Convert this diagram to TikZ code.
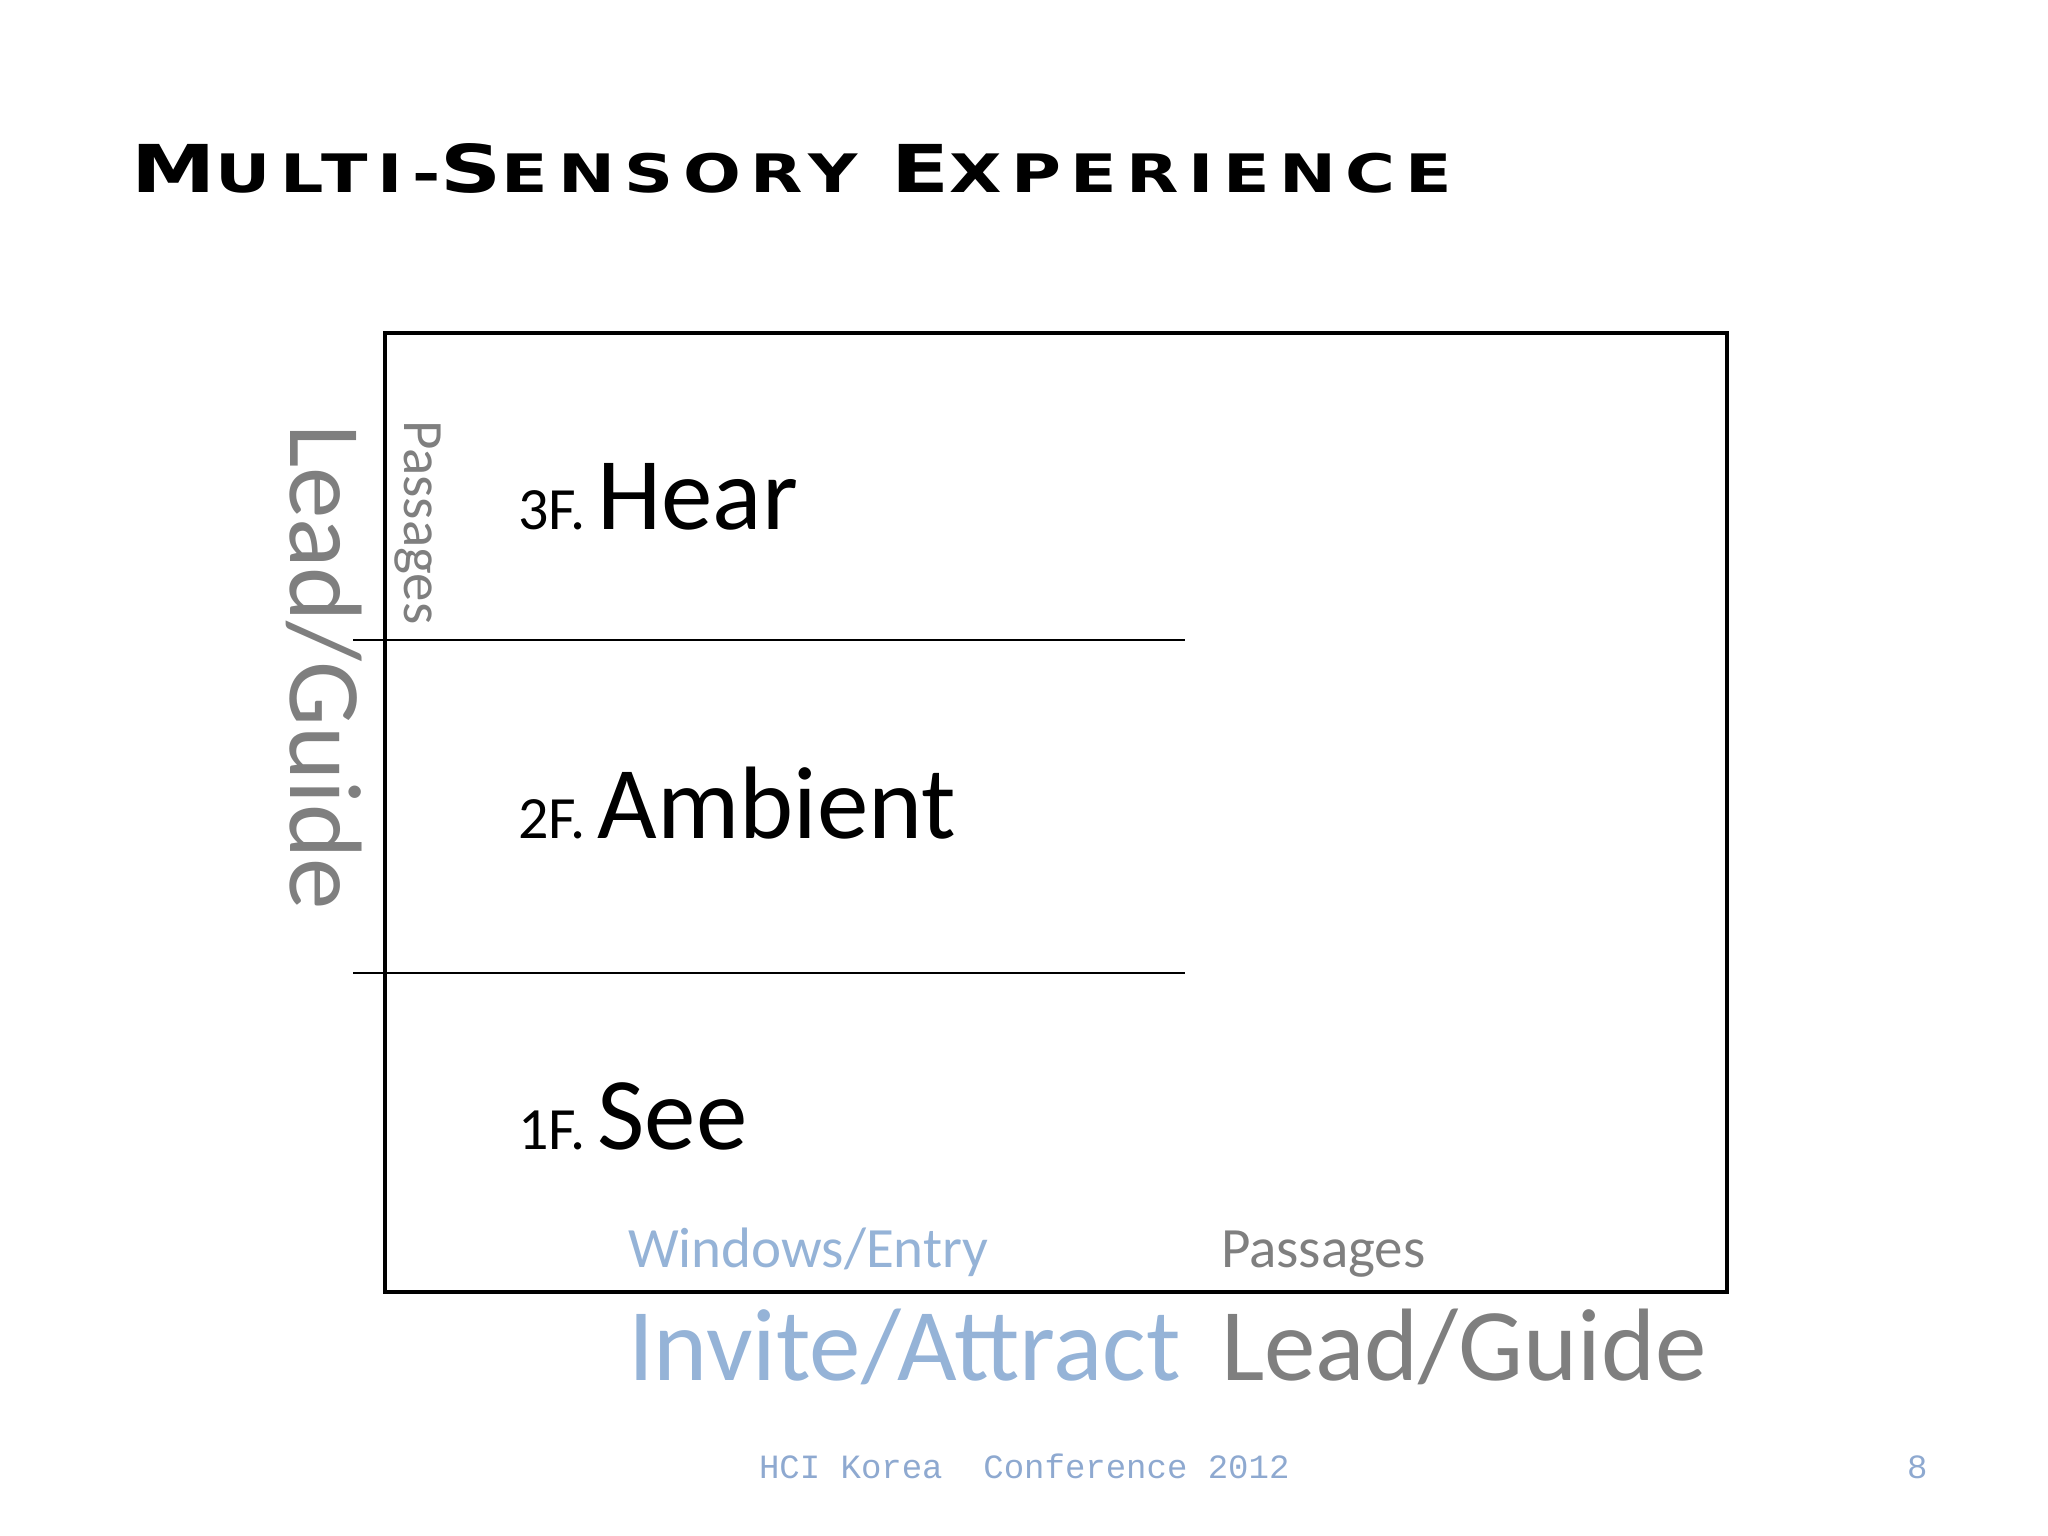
\documentclass[tikz,border=0pt]{standalone}
\usepackage{fontspec}
\usepackage{graphicx}
\setmainfont{Carlito}
\newfontfamily\titlefont[LetterSpace=14]{DejaVu Sans}
\newfontfamily\footfont{Liberation Mono}
\definecolor{lblue}{HTML}{95B3D7}
\definecolor{mgray}{HTML}{7F7F7F}
\definecolor{fblue}{HTML}{8EA9D0}
\tikzset{
  txt/.style={inner sep=0pt, outer sep=0pt, anchor=base west},
  big/.style={font=\fontsize{103}{120}\selectfont},
  mid/.style={font=\fontsize{57}{66}\selectfont},
  floor/.style={txt, text=black},
  frame/.style={line width=4pt, line join=miter},
  divider/.style={line width=1.6pt},
}
\newcommand{\floorlab}[2]{{\fontsize{60}{66}\selectfont #1}\hspace{12pt}{\fontsize{103}{120}\selectfont #2}}
\begin{document}
\begin{tikzpicture}[x=1pt,y=-1pt]
\useasboundingbox (0,0) rectangle (2048,1536);
% title
\node[txt] (title) at (131,192) {\resizebox{1321pt}{\height}{\titlefont\bfseries
  \fontsize{66}{70}\selectfont M\fontsize{53}{60}\selectfont ULTI-\fontsize{66}{70}\selectfont S\fontsize{53}{60}\selectfont ENSORY
  \fontsize{66}{70}\selectfont E\fontsize{53}{60}\selectfont XPERIENCE}};
% frame
\draw[frame] (385,333) rectangle (1727,1292);
\coordinate (l1a) at (353,640); \coordinate (l1b) at (1185,640);
\coordinate (l2a) at (353,973); \coordinate (l2b) at (1185,973);
\draw[divider] (l1a) -- (l1b);
\draw[divider] (l2a) -- (l2b);
% floors
\node[floor] (f3) at (518,529) {\floorlab{3F.}{Hear}};
\node[floor] (f2) at (518,838) {\floorlab{2F.}{Ambient}};
\node[floor] (f1) at (518,1149) {\floorlab{1F.}{See}};
% vertical labels
\node[txt, big, text=mgray, rotate=-90] (vlead) at (290,424) {Lead/Guide};
\node[txt, mid, text=mgray, rotate=-90] (vpass) at (404,420) {Passages};
% bottom labels
\node[txt, mid, text=lblue] (win) at (628,1267) {Windows/Entry};
\node[txt, mid, text=mgray] (hpass) at (1221,1267) {Passages};
\node[txt, big, text=lblue] (invite) at (628,1380) {Invite/Attract};
\node[txt, big, text=mgray] (hlead) at (1221,1380) {Lead/Guide};
% footer
\node[txt, text=fblue, font=\footfont\fontsize{34}{40}\selectfont] (foot) at (759,1478) {HCI~Korea~~Conference~2012};
\node[txt, text=fblue, font=\footfont\fontsize{34}{40}\selectfont] (page) at (1907,1478) {8};
\end{tikzpicture}
\end{document}
